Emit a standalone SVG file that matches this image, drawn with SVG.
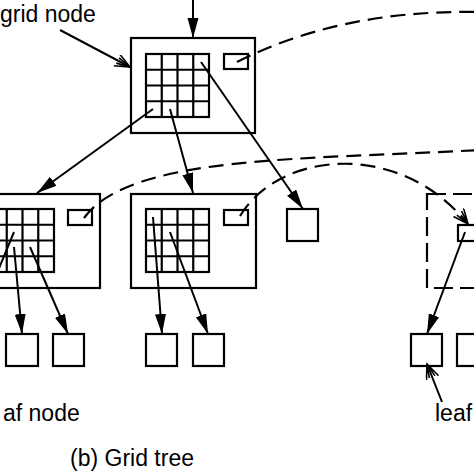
<svg xmlns="http://www.w3.org/2000/svg" width="474" height="474" viewBox="0 0 474 474">
<style>
.box{fill:none;stroke:#000;stroke-width:2.2}
.grid{fill:none;stroke:#000;stroke-width:2.2}
.dbox{fill:none;stroke:#000;stroke-width:2.2;stroke-dasharray:19 7}
.conn{fill:none;stroke:#000;stroke-width:2}
.dash{fill:none;stroke:#000;stroke-width:2.2;stroke-dasharray:15 8}
text{font-family:"Liberation Sans",Arial,sans-serif;font-size:23px;fill:#000}
</style>
<defs>
<marker id="fa" markerUnits="userSpaceOnUse" markerWidth="22" markerHeight="12" refX="20" refY="5.5" orient="auto">
<path d="M0,0 L20,5.5 L0,11 z" fill="#000"/>
</marker>
<marker id="oa" markerUnits="userSpaceOnUse" markerWidth="18" markerHeight="14" refX="15" refY="6.5" orient="auto">
<path d="M0,0 L15,6.5 L0,13 M1,3.5 L15,6.5 L1,9.5" fill="none" stroke="#000" stroke-width="1.6"/>
</marker>
<g id="g4">
<rect x="0" y="0" width="63" height="63" class="grid"/>
<path d="M15.75,0V63M31.5,0V63M47.25,0V63M0,15.75H63M0,31.5H63M0,47.25H63" class="grid"/>
</g>
</defs>

<g id="top-node">
<rect x="131" y="38" width="124" height="95" class="box"/>
<use href="#g4" x="146" y="54"/>
<rect x="224" y="54" width="24" height="15" class="box"/>
</g>

<g id="left-node">
<rect x="-25" y="194" width="125" height="94" class="box"/>
<use href="#g4" x="-9" y="209"/>
<rect x="68" y="210" width="24" height="15" class="box"/>
</g>

<g id="middle-node">
<rect x="131" y="194" width="125" height="94" class="box"/>
<use href="#g4" x="146" y="209"/>
<rect x="224" y="210" width="24" height="15" class="box"/>
</g>

<g id="small-node">
<rect x="287" y="209" width="31" height="32" class="box"/>
</g>

<g id="right-node">
<rect x="427" y="194" width="70" height="94" class="dbox"/>
<rect x="458" y="225" width="24" height="16" class="box"/>
</g>

<g id="leaves">
<rect x="6" y="334" width="32" height="32" class="box"/>
<rect x="53" y="334" width="31" height="32" class="box"/>
<rect x="146" y="334" width="31" height="32" class="box"/>
<rect x="193" y="334" width="31" height="32" class="box"/>
<rect x="411" y="334" width="31" height="32" class="box"/>
<rect x="457" y="334" width="31" height="32" class="box"/>
</g>

<g id="connectors">
<line x1="193" y1="0" x2="193" y2="38" class="conn" marker-end="url(#fa)"/>
<line x1="60" y1="30" x2="130" y2="67" class="conn" marker-end="url(#oa)"/>
<line x1="153" y1="109" x2="37" y2="193" class="conn" marker-end="url(#fa)"/>
<line x1="170" y1="109" x2="193" y2="193" class="conn" marker-end="url(#fa)"/>
<line x1="201" y1="62" x2="303" y2="209" class="conn" marker-end="url(#fa)"/>
<line x1="14" y1="232" x2="-10" y2="290" class="conn"/>
<line x1="14" y1="247" x2="22" y2="334" class="conn" marker-end="url(#fa)"/>
<line x1="30" y1="247" x2="68" y2="334" class="conn" marker-end="url(#fa)"/>
<line x1="153" y1="217" x2="162" y2="334" class="conn" marker-end="url(#fa)"/>
<line x1="170" y1="232" x2="208" y2="334" class="conn" marker-end="url(#fa)"/>
<line x1="465" y1="232" x2="427" y2="334" class="conn" marker-end="url(#fa)"/>
<line x1="442" y1="402" x2="427" y2="364" class="conn" marker-end="url(#oa)"/>
<path d="M237,62 C300,30 380,10 480,12" class="dash"/>
<path d="M84,218 C130,155 300,160 480,150" class="dash"/>
<path d="M240,216 C280,150 400,140 468,224" class="dash" marker-end="url(#oa)"/>
</g>

<g id="labels">
<text x="0" y="22">grid node</text>
<text x="3" y="421">af node</text>
<text x="435" y="421">leaf</text>
<text x="70" y="466">(b) Grid tree</text>
</g>
</svg>
